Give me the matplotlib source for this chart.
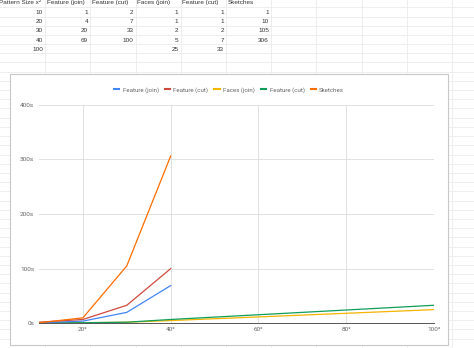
import numpy as np
import matplotlib.pyplot as plt
from matplotlib.patches import Rectangle

# pattern size (x^2) and timings in seconds
sizes = [10, 20, 30, 40, 100]
feature_join = [1, 4, 20, 69, None]
feature_cut = [2, 7, 33, 100, None]
faces_join = [1, 1, 2, 5, 25]
feature_cut2 = [1, 1, 2, 7, 33]
sketches = [1, 10, 105, 306, None]

headers = ["Pattern Size x\u00b2", "Feature (join)", "Feature (cut)",
           "Faces (join)", "Feature (cut)", "Sketches"]
series_names = ["Feature (join)", "Feature (cut)", "Faces (join)",
                "Feature (cut)", "Sketches"]
colors = ["#4285F4", "#D04A3C", "#F4B400", "#0F9D58", "#FF6D01"]

x_ticks = [20, 40, 60, 80, 100]
y_ticks = [0, 100, 200, 300, 400]

plt.rcParams['font.family'] = ['Roboto', 'DejaVu Sans']

W, H = 474, 348
fig = plt.figure(figsize=(W / 100, H / 100), dpi=100)

# background sheet, pixel coordinates
bg = fig.add_axes([0, 0, 1, 1])
bg.set_xlim(0, W)
bg.set_ylim(H, 0)
bg.axis('off')

grid_c = "#ebebeb"
row_h = 9.2
for k in range(40):
    y = 7.3 + k * row_h
    bg.plot([0, W], [y, y], color=grid_c, lw=0.6, zorder=0)
for k in range(1, 11):
    x = 45.2 * k
    bg.plot([x, x], [0, H], color=grid_c, lw=0.6, zorder=0)

# table text
cols = [sizes, feature_join, feature_cut, faces_join, feature_cut2, sketches]
for j, (name, vals) in enumerate(zip(headers, cols)):
    left = 45.2 * j
    bg.text(left + 1.5 if j else -1, 2.5, name, fontsize=4.6, color="#333333",
            family=['Liberation Sans', 'DejaVu Sans'], ha='left', va='center')
    for i, v in enumerate(vals):
        if v is None:
            continue
        bg.text(left + 43, 12.5 + i * row_h, str(v), fontsize=4.6,
                color="#333333", family=['Liberation Sans', 'DejaVu Sans'],
                ha='right', va='center')

# chart card
bg.add_patch(Rectangle((11, 75), 438, 271, facecolor="#d6d6d6",
                       edgecolor='none', zorder=2))
bg.add_patch(Rectangle((10, 73.5), 438, 271, facecolor="white",
                       edgecolor="#c8c8c8", lw=0.8, zorder=3))

# chart
ax = fig.add_axes([39 / W, 1 - 323.3 / H, (434 - 39) / W, (323.3 - 104.7) / H])
ax.set_zorder(5)
ax.patch.set_alpha(0)
ax.set_xlim(10, 100)
ax.set_ylim(0, 400)

series = [feature_join, feature_cut, faces_join, feature_cut2, sketches]
order = [2, 3, 0, 1, 4]
lines = {}
for idx in order:
    vals = series[idx]
    xs = [s for s, v in zip(sizes, vals) if v is not None]
    ys = [v for v in vals if v is not None]
    lines[idx], = ax.plot(xs, ys, color=colors[idx], lw=0.9, zorder=3)

ax.set_xticks(x_ticks)
ax.set_xticklabels([f"{v}\u00b2" for v in x_ticks])
ax.set_yticks(y_ticks)
ax.set_yticklabels([f"{v}s" for v in y_ticks])
ax.grid(True, color="#dcdcdc", lw=0.6)
ax.set_axisbelow(True)
for side in ['top', 'right', 'left']:
    ax.spines[side].set_visible(False)
ax.spines['bottom'].set_color("#555555")
ax.spines['bottom'].set_linewidth(0.7)
ax.tick_params(length=0, labelsize=4.6, labelcolor="#666666", pad=3)
ax.tick_params(axis='y', pad=3.5)

hs = [lines[i] for i in range(5)]
leg = fig.legend(hs, series_names, loc='center',
                 bbox_to_anchor=(229 / W, 1 - 90 / H),
                 ncol=5, frameon=False, fontsize=4.4, handlelength=0.9,
                 handletextpad=0.5, columnspacing=1.0)
for t in leg.get_texts():
    t.set_color("#666666")
for line in leg.get_lines():
    line.set_linewidth(1.5)

fig.savefig("out.png", dpi=100)
